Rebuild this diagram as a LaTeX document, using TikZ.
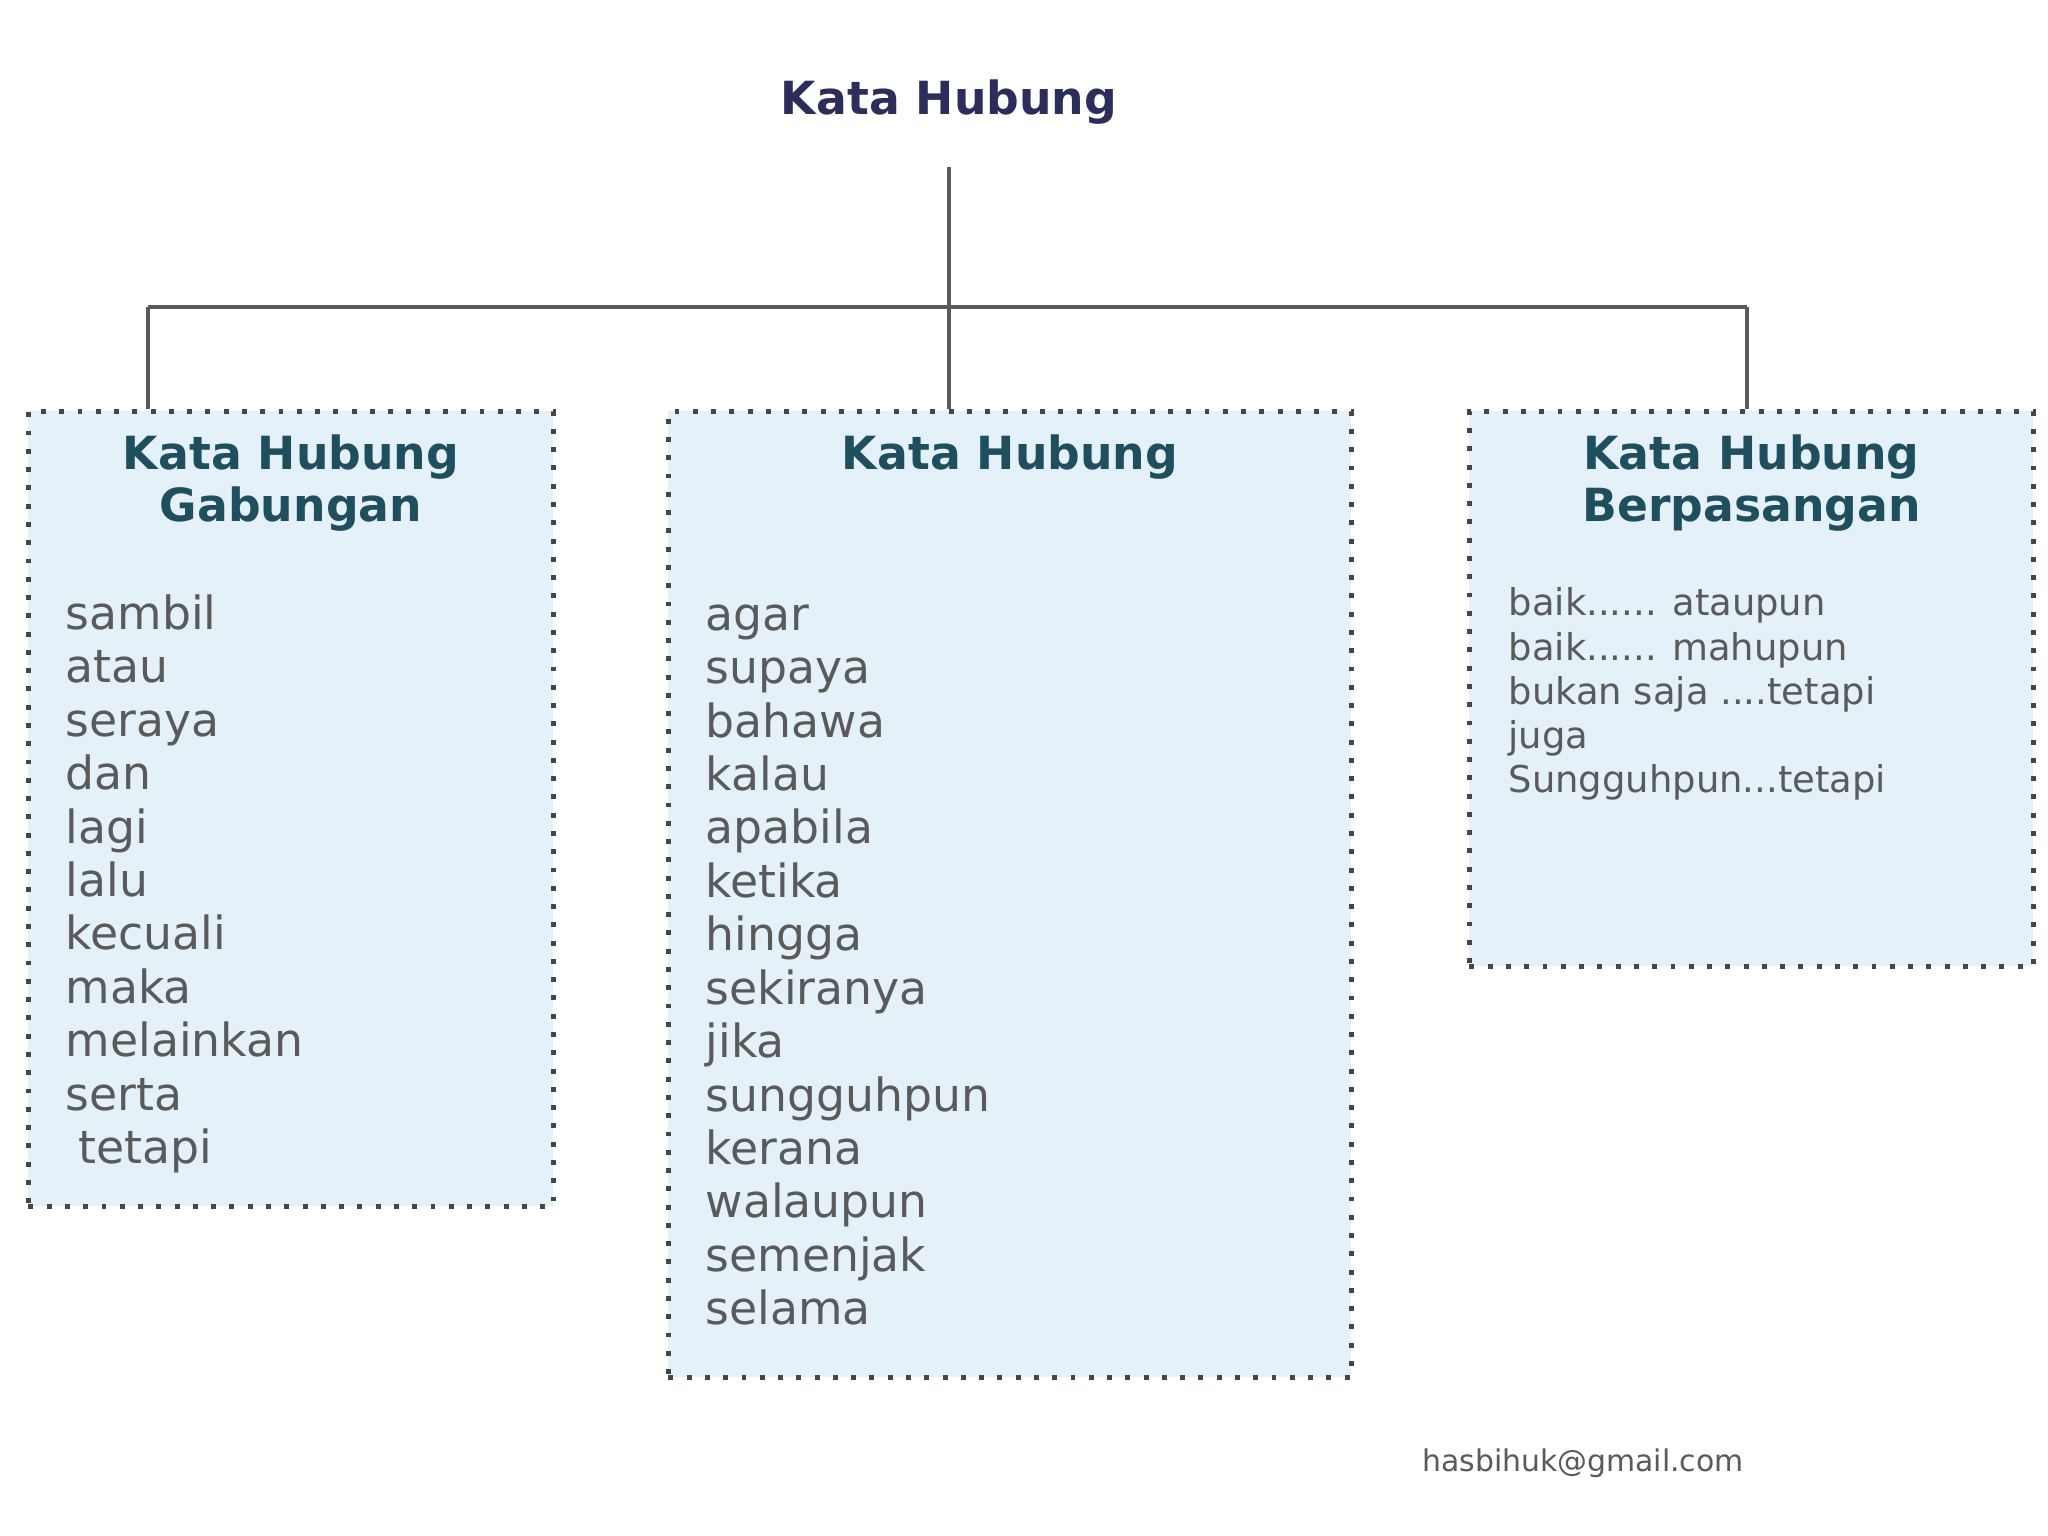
\documentclass[tikz,border=0pt]{standalone}
\usepackage{fontspec}
\setmainfont{DejaVu Sans}
\usetikzlibrary{positioning}

\definecolor{isikotak}{HTML}{E4F1F8}
\definecolor{garistitik}{HTML}{464646}
\definecolor{judulbiru}{HTML}{1F4E5F}
\definecolor{judulatas}{HTML}{2D2D5C}
\definecolor{teksabu}{HTML}{5A5A5A}

\tikzset{
  kotak/.style={draw=garistitik, fill=isikotak, line width=1.4pt,
    dash pattern=on 1.4pt off 3.8pt, anchor=north west, inner sep=0pt},
  judul/.style={font=\bfseries\fontsize{13}{14.8}\selectfont, text=judulbiru,
    align=center, inner sep=0pt},
  daftar/.style={font=\fontsize{13}{15.2}\selectfont, text=teksabu,
    align=left, inner sep=0pt},
  daftarkecil/.style={font=\fontsize{10.5}{12.6}\selectfont, text=teksabu,
    align=left, inner sep=0pt},
  hubung/.style={draw=gray!70!black, line width=1.1pt},
}

\begin{document}
\begin{tikzpicture}
    \useasboundingbox[fill=white] (0,0) rectangle (20.48,15.36);

    % top
    \node[judul, text=judulatas] (induk) at (9.49,14.34) {Kata Hubung};

    % boxes
    \node[kotak, minimum width=5.25cm, minimum height=7.95cm] (gabung) at (0.26,11.27) {};
    \node[kotak, minimum width=6.83cm, minimum height=9.66cm] (tengah) at (6.66,11.27) {};
    \node[kotak, minimum width=5.64cm, minimum height=5.55cm] (pasang) at (14.67,11.27) {};

    % connectors
    \coordinate (cabangkiri) at (1.48,12.29);
    \coordinate (cabangkanan) at (17.47,12.29);
    \draw[hubung] ([yshift=-0.42cm]induk.south) -- (induk.south |- tengah.north);
    \draw[hubung] (cabangkiri) -- (cabangkanan);
    \draw[hubung] (cabangkiri) -- (cabangkiri |- gabung.north);
    \draw[hubung] (cabangkanan) -- (cabangkanan |- pasang.north);

    % box titles
    \node[judul, below=0.25cm of gabung.north] (judulgabung) {Kata Hubung\\Gabungan};
    \node[judul, below=0.25cm of tengah.north] (judultengah) {Kata Hubung};
    \node[judul, below=0.25cm of pasang.north] (judulpasang) {Kata Hubung\\Berpasangan};

    % word lists
    \node[daftar, below right=1.85cm and 0.39cm of gabung.north west] (listgabung)
      {sambil\\atau\\seraya\\dan\\lagi\\lalu\\kecuali\\maka\\melainkan\\serta\\\hspace{0.13cm}tetapi};
    \node[daftar, below right=1.95cm and 0.39cm of tengah.north west] (listtengah)
      {agar\\supaya\\bahawa\\kalau\\apabila\\ketika\\hingga\\sekiranya\\jika\\sungguhpun\\kerana\\walaupun\\semenjak\\selama};
    \node[daftarkecil, below right=1.78cm and 0.41cm of pasang.north west] (listpasang)
      {baik...... ataupun\\baik...... mahupun\\bukan saja ....tetapi\\juga\\Sungguhpun...tetapi};

    % email
    \node[font=\fontsize{8.5}{10}\selectfont, text=teksabu] (surel) at (15.83,0.73) {hasbihuk@gmail.com};
\end{tikzpicture}
\end{document}
